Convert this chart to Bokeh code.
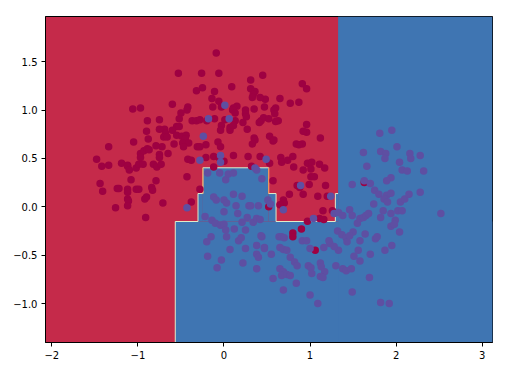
from bokeh.plotting import figure
from bokeh.models import Range1d, FixedTicker
from bokeh.embed import file_html
from bokeh.resources import INLINE

# axis limits
x_lo, x_hi = -2.074, 3.12
y_lo, y_hi = -1.402, 1.966

# decision-tree split thresholds (blue regions)
blue_left = [-0.566, -0.302, -0.245, 0.519, 1.294, 1.326]
blue_right = [x_hi, -0.245, 0.519, 0.605, 1.326, x_hi]
blue_bottom = [y_lo, -0.152, -0.152, -0.152, -0.152, y_lo]
blue_top = [-0.152, 0.137, 0.403, 0.137, 0.137, y_hi]

# boundary outline
bnd_x = [-0.566, -0.566, -0.302, -0.302, -0.245, -0.245, 0.519, 0.519, 0.605, 0.605, 1.294, 1.294, 1.326]
bnd_y = [y_lo, -0.152, -0.152, 0.137, 0.137, 0.403, 0.403, 0.137, 0.137, -0.152, -0.152, 0.137, 0.137]

# class 0 points
red_x = [-0.09,-0.53,-0.26,-0.06,0.45,0.31,0.91,0.96,0.09,-0.25,-0.32,-0.11,0.31,0.36,0.34,0.33,0.48,0.42,0.65,-0.14,
         -0.06,-0.60,0.77,0.87,0.15,-0.13,-0.03,0.11,0.10,0.13,0.60,0.58,0.47,0.35,0.25,0.25,0.26,-1.06,-0.97,-0.42,
         -0.43,-0.50,-0.52,-0.37,-0.32,-0.28,-0.20,-0.11,0.01,0.13,0.22,0.43,0.46,0.52,0.59,0.63,0.60,0.41,-0.89,-0.75,
         -0.55,-0.52,-0.60,-0.69,-0.75,-0.90,-0.68,-0.70,-0.66,-0.88,-1.05,-0.55,-0.49,-0.44,-0.45,-0.48,-0.41,-0.58,-0.47,-0.72,
         -0.79,-0.31,-0.21,-0.07,-0.03,-0.04,0.07,0.07,0.11,0.27,0.35,0.36,0.33,0.53,0.57,0.58,0.84,0.91,0.96,0.92,
         0.96,1.12,0.87,-1.34,-1.48,-1.42,-1.34,-1.44,-1.41,-1.26,-1.24,-1.22,-1.19,-1.12,-1.12,-1.10,-1.02,-0.99,-0.94,-1.08,
         -1.12,-1.12,-1.12,-1.11,-1.12,-1.02,-0.99,-0.92,-0.90,-0.91,-0.71,-0.97,-0.93,-0.89,-0.87,-0.97,-0.82,-0.78,-0.73,-0.79,
         -0.84,-0.83,-0.75,-0.75,-0.65,-0.43,-0.42,-0.38,-0.38,-0.28,-0.21,-0.12,-0.12,-0.06,0.00,0.11,0.28,0.32,0.42,0.53,
         0.57,0.66,0.67,0.74,0.80,0.81,0.92,0.97,1.02,1.01,1.01,1.05,1.11,1.17,0.99,0.85,0.88,0.76,0.92,1.09,
         1.18,1.20,0.69,0.70,0.65,0.52,1.15,1.26,1.11,1.16,0.97,0.80,0.80,0.90,1.06,1.63,-0.28,-0.04]
red_y = [1.59,1.38,1.38,1.38,1.36,1.31,1.27,1.22,1.24,1.23,1.20,1.19,1.22,1.19,1.16,1.13,1.11,1.13,1.12,1.12,
         1.09,1.06,1.07,1.08,1.04,1.03,1.03,1.02,1.00,0.97,1.02,1.00,1.03,1.01,1.00,0.96,0.93,1.01,1.02,1.03,
         1.00,0.97,0.91,0.89,0.89,0.90,0.89,0.91,0.90,0.89,0.87,0.89,0.92,0.91,0.96,0.89,0.88,0.87,0.89,0.90,
         0.83,0.83,0.79,0.80,0.80,0.78,0.76,0.72,0.72,0.70,0.67,0.74,0.73,0.74,0.70,0.66,0.66,0.65,0.62,0.62,
         0.63,0.62,0.64,0.67,0.84,0.79,0.79,0.82,0.84,0.80,0.71,0.69,0.65,0.73,0.68,0.69,0.65,0.65,0.77,0.78,
         0.85,0.71,0.64,0.62,0.49,0.42,0.43,0.24,0.16,-0.01,0.19,0.19,0.45,0.43,0.42,0.38,0.40,0.44,0.44,0.28,
         0.18,0.15,0.08,0.06,0.01,0.18,0.18,0.08,0.10,-0.11,0.04,0.55,0.58,0.60,0.59,0.51,0.44,0.41,0.44,0.27,
         0.20,0.17,0.54,0.51,0.55,0.31,0.49,0.48,0.05,0.18,0.51,0.41,0.52,0.51,0.47,0.53,0.52,0.42,0.52,0.45,
         0.27,0.51,0.46,0.48,0.52,0.41,0.38,0.45,0.46,0.39,0.31,0.31,0.44,0.40,0.23,0.22,0.20,0.13,0.13,0.11,
         0.22,0.11,0.07,0.04,0.02,0.00,-0.04,-0.04,-0.12,-0.13,-0.15,-0.27,-0.31,-0.23,-0.45,0.25,0.62,0.62]

# class 1 points
blue_x = [0.01,-0.18,0.06,-0.24,-0.28,-0.04,-0.04,0.49,0.36,-0.43,0.89,1.24,1.04,0.69,
          -0.19,-0.05,0.02,0.05,0.11,0.38,0.44,0.11,0.21,-0.12,-0.09,0.00,0.03,0.14,0.29,0.31,
          0.40,0.51,0.54,-0.22,-0.14,-0.10,-0.04,0.00,0.00,0.16,0.27,0.34,0.38,0.42,0.21,0.02,
          0.12,0.25,-0.15,-0.20,0.03,0.17,0.20,0.44,0.43,0.38,0.47,0.47,0.25,0.07,0.38,0.40,
          0.55,-0.03,-0.19,-0.08,0.22,0.38,0.64,0.67,0.70,0.65,0.69,0.73,0.77,0.82,0.85,0.91,
          0.96,1.00,0.98,1.01,1.02,1.12,1.13,1.17,1.12,1.15,0.65,0.69,0.67,0.73,0.77,0.57,
          0.69,0.84,1.00,1.09,1.30,1.38,1.42,1.48,1.49,1.58,1.51,1.56,1.70,1.69,1.82,1.92,
          1.87,1.95,1.32,1.37,1.42,1.43,1.33,1.28,1.23,1.16,1.22,1.50,1.46,1.58,1.64,1.76,
          1.78,1.28,1.33,1.38,1.46,1.49,1.55,1.58,1.62,1.65,1.68,1.74,1.85,1.82,1.94,1.99,
          1.94,1.98,2.04,2.02,2.07,2.05,2.10,2.15,2.28,2.52,2.32,2.28,2.16,2.17,2.01,2.04,
          2.07,2.13,1.94,1.89,1.95,1.81,1.82,1.88,1.87,1.62,1.66,1.70,1.49,1.75,1.80,1.89,
          1.94,1.86,1.90,1.63]
blue_y = [1.05,0.91,0.91,0.73,0.48,0.53,0.46,0.49,0.40,-0.01,0.22,0.11,-0.12,-0.03,
          0.35,0.35,0.28,0.34,0.35,0.38,0.29,0.13,0.11,0.10,0.07,0.07,0.04,0.01,0.01,0.01,
          0.01,0.07,0.03,-0.10,-0.14,-0.17,-0.19,-0.18,-0.05,-0.07,-0.11,-0.16,-0.12,-0.13,-0.16,-0.24,
          -0.23,-0.24,-0.31,-0.36,-0.31,-0.35,-0.32,-0.31,-0.30,-0.40,-0.42,-0.43,-0.43,-0.44,-0.49,-0.52,
          -0.49,-0.55,-0.51,-0.63,-0.58,-0.64,-0.31,-0.31,-0.32,-0.42,-0.44,-0.45,-0.52,-0.57,-0.61,-0.35,
          -0.35,-0.43,-0.61,-0.63,-0.69,-0.58,-0.62,-0.67,-0.72,-0.73,-0.64,-0.67,-0.71,-0.70,-0.71,-0.74,
          -0.86,-0.79,-0.91,-1.00,-0.61,-0.64,-0.66,-0.64,-0.88,-0.56,-0.51,-0.45,-0.49,-0.73,-0.99,-1.00,
          -0.45,-0.40,-0.25,-0.29,-0.32,-0.36,-0.45,-0.41,-0.38,-0.42,-0.35,-0.26,-0.30,-0.35,-0.28,-0.33,
          -0.31,-0.07,-0.06,-0.09,-0.03,-0.09,-0.17,-0.12,-0.11,-0.09,-0.07,0.03,-0.04,-0.11,-0.07,-0.14,
          -0.20,-0.18,-0.26,-0.04,-0.04,0.05,0.08,0.13,0.15,-0.07,0.37,0.53,0.55,0.50,0.62,0.46,
          0.38,0.37,0.30,0.27,0.79,0.76,0.57,0.55,0.50,0.56,0.42,0.24,0.23,0.17,0.13,0.12,
          0.14,0.08,0.05,0.27]

x_ticks = [-2, -1, 0, 1, 2, 3]
y_ticks = [-1.0, -0.5, 0.0, 0.5, 1.0, 1.5]

p = figure(frame_width=447, frame_height=326, output_backend="svg", toolbar_location=None,
           x_range=Range1d(x_lo, x_hi), y_range=Range1d(y_lo, y_hi),
           min_border_left=45, min_border_top=16, min_border_right=13, min_border_bottom=24)
p.background_fill_color = "#c52a4a"
p.border_fill_color = "white"
p.grid.visible = False
p.outline_line_color = "black"
p.outline_line_width = 1

p.quad(left=blue_left, right=blue_right, bottom=blue_bottom, top=blue_top,
       fill_color="#3f75b2", line_color=None)
p.line(bnd_x, bnd_y, line_color="#dfeccb", line_width=1)
p.segment(x0=[bnd_x[4], bnd_x[6]], y0=[bnd_y[3], bnd_y[7]], x1=[bnd_x[5], bnd_x[7]], y1=[bnd_y[5], bnd_y[6]],
          line_color="#f28a4a", line_width=1)

p.scatter(red_x, red_y, size=7.5, fill_color="#9e0142", line_color=None)
p.scatter(blue_x, blue_y, size=7.5, fill_color="#5e4fa2", line_color=None)

for ax in (p.xaxis[0], p.yaxis[0]):
    ax.axis_line_color = "black"
    ax.major_tick_line_color = "black"
    ax.major_tick_out = 4
    ax.major_tick_in = 0
    ax.minor_tick_line_color = None
    ax.major_label_text_font = "DejaVu Sans"
    ax.major_label_text_font_size = "10px"
    ax.major_label_text_color = "black"
    ax.major_label_standoff = 4

p.xaxis.ticker = FixedTicker(ticks=x_ticks)
p.yaxis.ticker = FixedTicker(ticks=y_ticks)
p.xaxis.major_label_overrides = {t: str(t).replace("-", "\u2212") for t in x_ticks}
p.yaxis.major_label_overrides = {t: ("%.1f" % t).replace("-", "\u2212") for t in y_ticks}

open("out.html", "w").write(file_html(p, INLINE))
